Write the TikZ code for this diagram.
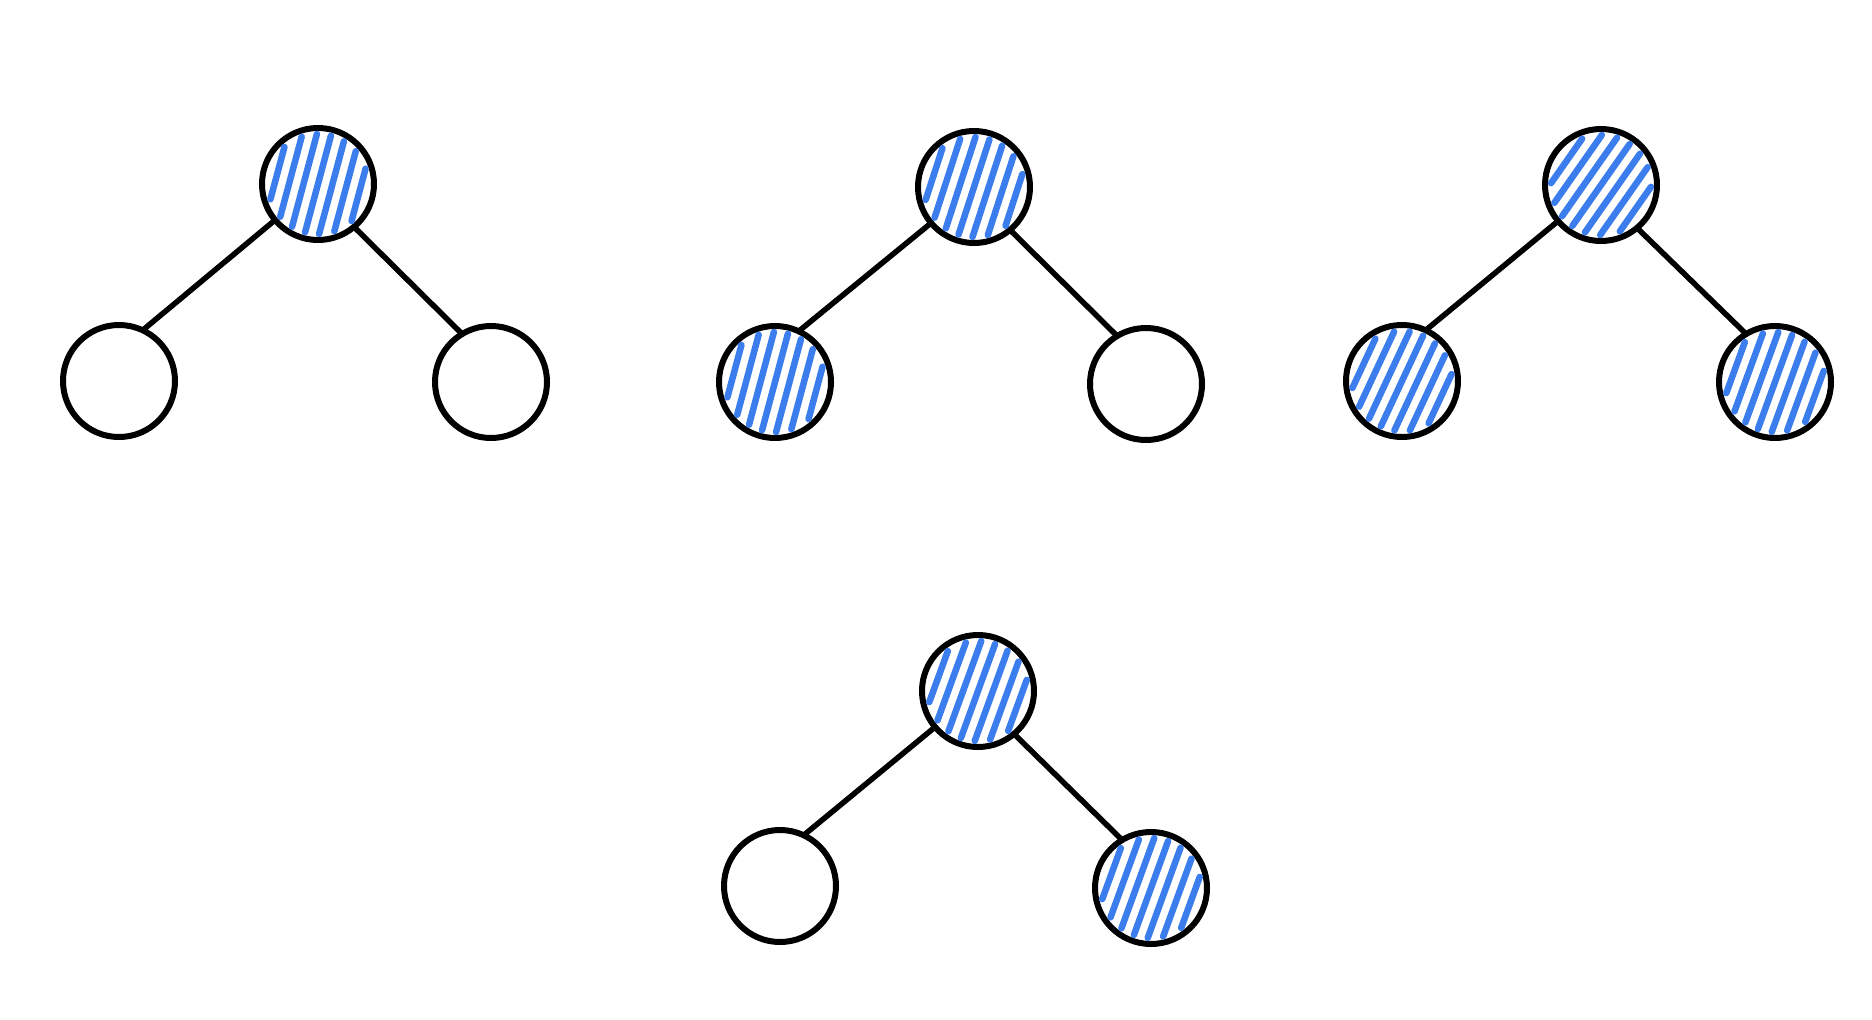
\documentclass[tikz,border=0pt]{standalone}
\usepackage{tikz}
\usetikzlibrary{calc}

\definecolor{hatchblue}{RGB}{59,125,237}

\tikzset{
	vert/.style={draw, circle, line width=6pt, minimum size=112pt, inner sep=0pt, outer sep=0pt},
	edge/.style={line width=5.5pt},
	hatchline/.style={hatchblue, line width=6.5pt, line cap=round}
}

% slanted strokes inside a node: #1 node, #2 slant
\newcommand{\hatchvert}[2]{%
	\begin{scope}[shift={(#1.center)}, rotate=#2]
		\foreach \d in {-42,-28,...,42}
			\draw[hatchline] ({-sqrt(2500-(\d)*(\d))},\d) -- ({sqrt(2500-(\d)*(\d))},\d);
	\end{scope}}

\begin{document}
\begin{tikzpicture}[x=1pt, y=1pt]
	\fill[white] (0,0) rectangle (1872,-1020);

	% tree 1
	\node[vert] (rootA)  at (318,-184) {};
	\node[vert] (leftA)  at (119,-381) {};
	\node[vert] (rightA) at (491,-382) {};

	% tree 2
	\node[vert] (rootB)  at (974,-187) {};
	\node[vert] (leftB)  at (775,-382) {};
	\node[vert] (rightB) at (1146,-384) {};

	% tree 3
	\node[vert] (rootC)  at (1601,-185) {};
	\node[vert] (leftC)  at (1402,-381) {};
	\node[vert] (rightC) at (1775,-382) {};

	% tree 4
	\node[vert] (rootD)  at (978,-691) {};
	\node[vert] (leftD)  at (780,-886) {};
	\node[vert] (rightD) at (1151,-888) {};

	\foreach \t in {A,B,C,D} {
		\draw[edge] (root\t.220) -- (left\t.65);
		\draw[edge] (root\t.310) -- (right\t.121);
	}

	\hatchvert{rootA}{75}
	\hatchvert{rootB}{72}
	\hatchvert{leftB}{75}
	\hatchvert{rootC}{55}
	\hatchvert{leftC}{65}
	\hatchvert{rightC}{70}
	\hatchvert{rootD}{70}
	\hatchvert{rightD}{70}
\end{tikzpicture}
\end{document}
